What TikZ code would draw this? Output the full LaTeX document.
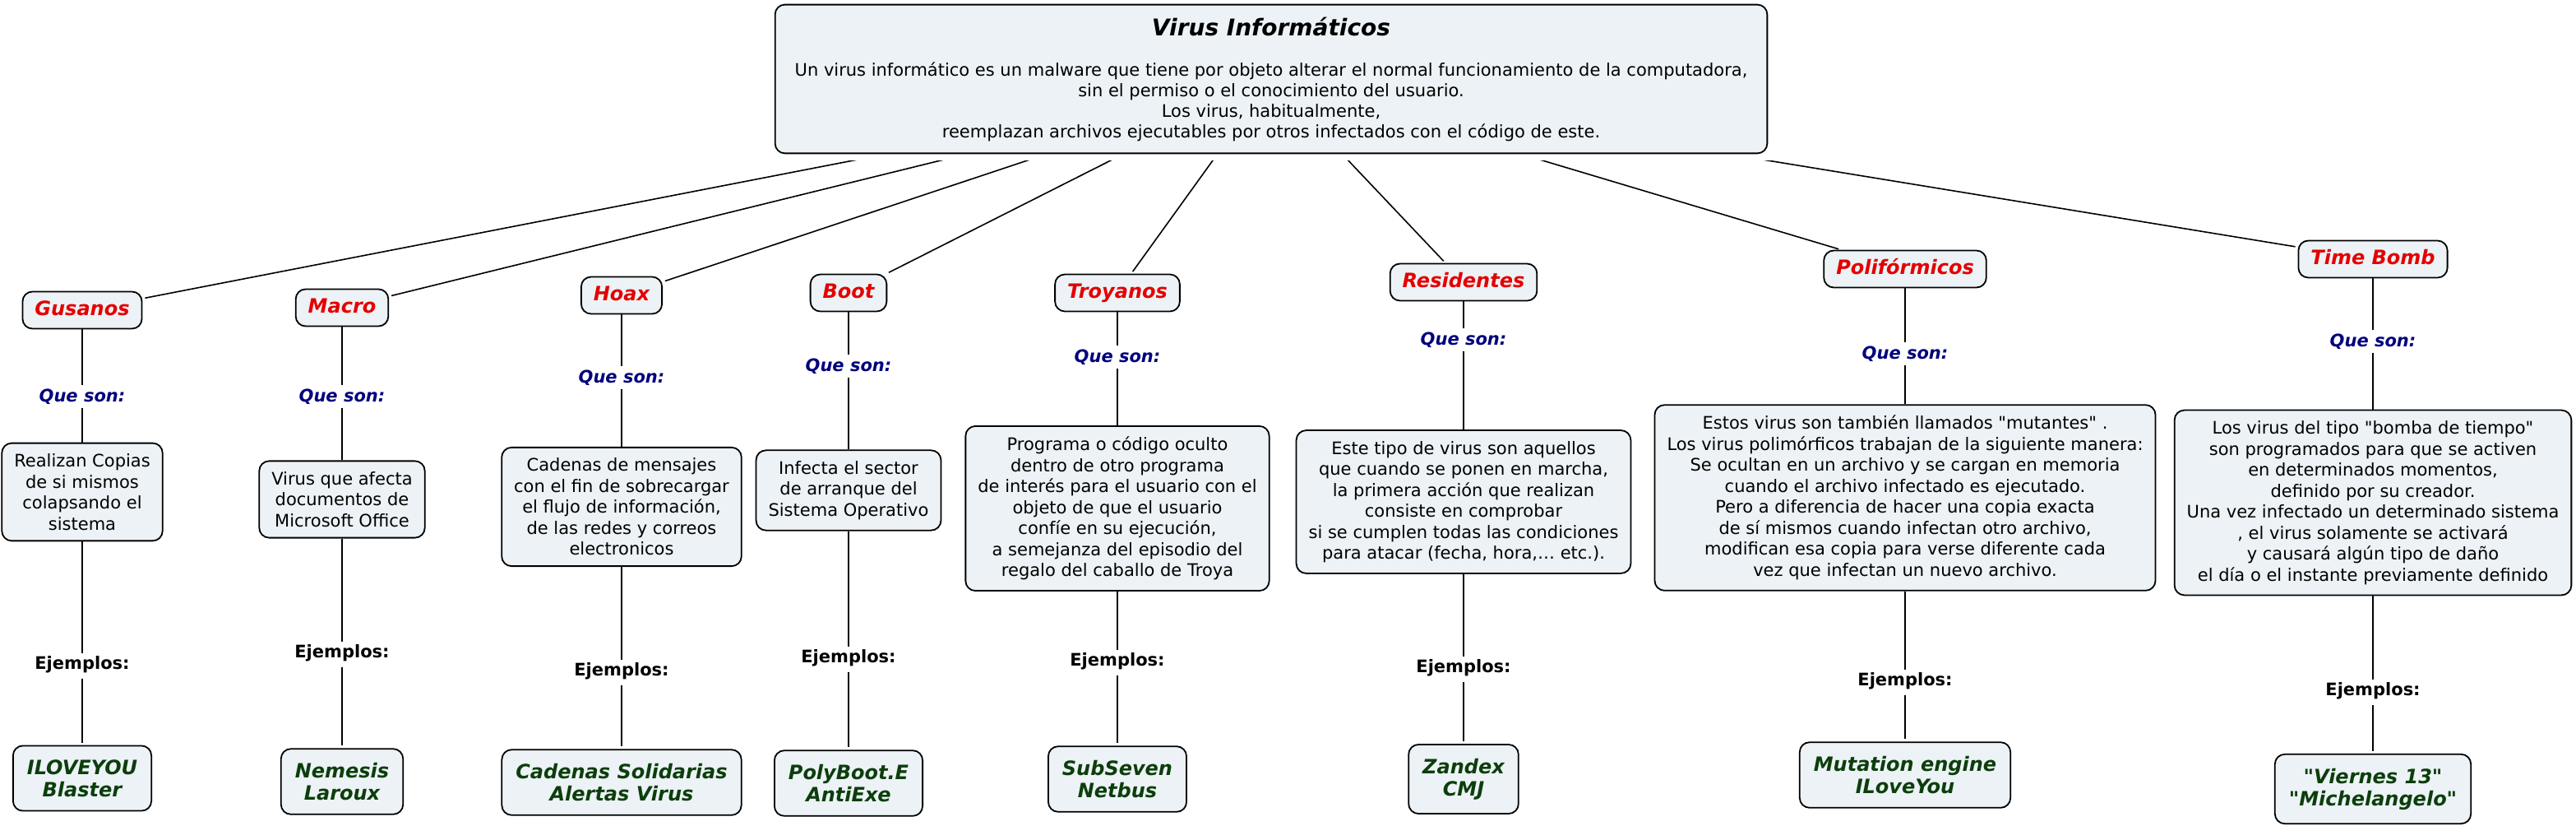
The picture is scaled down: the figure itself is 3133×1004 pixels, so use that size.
\documentclass[tikz,border=0pt]{standalone}
\usepackage{fontspec}
\setmainfont{DejaVu Sans}
\newfontfamily\plainfont{DejaVu Sans}
\usepackage{xcolor}
\definecolor{boxFill}{RGB}{236,242,245}
\definecolor{virusRed}{RGB}{228,0,0}
\definecolor{queBlue}{RGB}{0,0,125}
\definecolor{ejemGreen}{RGB}{12,62,12}

\begin{document}
\begin{tikzpicture}[x=1pt, y=-1pt,
    box/.style={draw, line width=1.8pt, rounded corners=12pt, fill=boxFill, align=center},
    tipo/.style={box, inner xsep=15pt, inner ysep=11pt, text height=18pt, text depth=5pt, text=virusRed, font=\fontsize{24}{28}\selectfont\bfseries\itshape},
    que/.style={inner sep=4pt, text=queBlue, font=\fontsize{21}{25}\selectfont\bfseries\itshape},
    ejem/.style={inner sep=4pt, font=\fontsize{21}{25}\selectfont\bfseries},
    desc/.style={box, inner xsep=15pt, inner ysep=13pt, font=\fontsize{21}{25.5}\selectfont\plainfont},
    muestra/.style={box, inner xsep=17pt, inner ysep=17pt, text=ejemGreen, font=\fontsize{24}{27}\selectfont\plainfont\bfseries\itshape},
    link/.style={line width=1.6pt, shorten <=3pt, shorten >=3pt}]

    \useasboundingbox (0,0) rectangle (3133,1004);

    % main concept
    \node[box, inner xsep=24pt, inner ysep=15pt, font=\fontsize{21}{25}\selectfont] (virus) at (1546,96)
        {{\fontsize{28}{34}\selectfont\bfseries\itshape Virus Informáticos}\\[24pt]
         Un virus informático es un malware que tiene por objeto alterar el normal funcionamiento de la computadora,\\
         sin el permiso o el conocimiento del usuario.\\
         Los virus, habitualmente,\\
         reemplazan archivos ejecutables por otros infectados con el código de este.};

    % kinds of virus
    \node[tipo] (gus) at (100,377) {Gusanos};
    \node[tipo] (mac) at (416,374) {Macro};
    \node[tipo] (hoax) at (756,359) {Hoax};
    \node[tipo] (boot) at (1032,356) {Boot};
    \node[tipo] (troy) at (1359,356) {Troyanos};
    \node[tipo] (resi) at (1780,343) {Residentes};
    \node[tipo] (poli) at (2317,327) {Polifórmicos};
    \node[tipo] (bomb) at (2886,315) {Time Bomb};

    % linking words
    \node[que] (gusq) at (100,482) {Que son:};
    \node[que] (macq) at (416,482) {Que son:};
    \node[que] (hoaxq) at (756,459) {Que son:};
    \node[que] (bootq) at (1032,445) {Que son:};
    \node[que] (troyq) at (1359,434) {Que son:};
    \node[que] (resiq) at (1780,413) {Que son:};
    \node[que] (poliq) at (2317,430) {Que son:};
    \node[que] (bombq) at (2886,415) {Que son:};

    % descriptions
    \node[desc] (gusd) at (100,598) {Realizan Copias\\ de si mismos\\ colapsando el\\ sistema};
    \node[desc] (macd) at (416,607) {Virus que afecta\\ documentos de\\ Microsoft Office};
    \node[desc] (hoaxd) at (756,616) {Cadenas de mensajes\\ con el fin de sobrecargar\\ el flujo de información,\\ de las redes y correos\\ electronicos};
    \node[desc] (bootd) at (1032,596) {Infecta el sector\\ de arranque del\\ Sistema Operativo};
    \node[desc] (troyd) at (1359,618) {Programa o código oculto\\ dentro de otro programa\\ de interés para el usuario con el\\ objeto de que el usuario\\ confíe en su ejecución,\\ a semejanza del episodio del\\ regalo del caballo de Troya};
    \node[desc] (resid) at (1780,610) {Este tipo de virus son aquellos\\ que cuando se ponen en marcha,\\ la primera acción que realizan\\ consiste en comprobar\\ si se cumplen todas las condiciones\\ para atacar (fecha, hora,… etc.).};
    \node[desc] (polid) at (2317,605) {Estos virus son también llamados "mutantes" .\\ Los virus polimórficos trabajan de la siguiente manera:\\ Se ocultan en un archivo y se cargan en memoria\\ cuando el archivo infectado es ejecutado.\\ Pero a diferencia de hacer una copia exacta\\ de sí mismos cuando infectan otro archivo,\\ modifican esa copia para verse diferente cada\\ vez que infectan un nuevo archivo.};
    \node[desc] (bombd) at (2886,611) {Los virus del tipo "bomba de tiempo"\\ son programados para que se activen\\ en determinados momentos,\\ definido por su creador.\\ Una vez infectado un determinado sistema\\ , el virus solamente se activará\\ y causará algún tipo de daño\\ el día o el instante previamente definido};

    % linking words
    \node[ejem] (guse) at (100,808) {Ejemplos:};
    \node[ejem] (mace) at (416,794) {Ejemplos:};
    \node[ejem] (hoaxe) at (756,816) {Ejemplos:};
    \node[ejem] (boote) at (1032,800) {Ejemplos:};
    \node[ejem] (troye) at (1359,804) {Ejemplos:};
    \node[ejem] (resie) at (1780,812) {Ejemplos:};
    \node[ejem] (polie) at (2317,828) {Ejemplos:};
    \node[ejem] (bombe) at (2886,840) {Ejemplos:};

    % examples
    \node[muestra] (gusm) at (100,946) {ILOVEYOU\\ Blaster};
    \node[muestra] (macm) at (416,950) {Nemesis\\ Laroux};
    \node[muestra] (hoaxm) at (756,951) {Cadenas Solidarias\\ Alertas Virus};
    \node[muestra] (bootm) at (1032,952) {PolyBoot.E\\ AntiExe};
    \node[muestra] (troym) at (1359,947) {SubSeven\\ Netbus};
    \node[muestra] (resim) at (1780,947) {Zandex\\ CMJ};
    \node[muestra] (polim) at (2317,942) {Mutation engine\\ ILoveYou};
    \node[muestra] (bombm) at (2886,959) {"Viernes 13"\\ "Michelangelo"};

    % draw links, the ones from the main concept start a little below its box
    \begin{scope}
        \clip (0,195) rectangle (3133,1004);
        \draw[link] (virus) -- (gus);
        \draw[link] (virus) -- (mac);
        \draw[link] (virus) -- (hoax);
        \draw[link] (virus) -- (boot);
        \draw[link] (virus) -- (troy);
        \draw[link] (virus) -- (resi);
        \draw[link] (virus) -- (poli);
        \draw[link] (virus) -- (bomb);
    \end{scope}

    \draw[link] (gus) -- (gusq) (gusq) -- (gusd) (gusd) -- (guse) (guse) -- (gusm);
    \draw[link] (mac) -- (macq) (macq) -- (macd) (macd) -- (mace) (mace) -- (macm);
    \draw[link] (hoax) -- (hoaxq) (hoaxq) -- (hoaxd) (hoaxd) -- (hoaxe) (hoaxe) -- (hoaxm);
    \draw[link] (boot) -- (bootq) (bootq) -- (bootd) (bootd) -- (boote) (boote) -- (bootm);
    \draw[link] (troy) -- (troyq) (troyq) -- (troyd) (troyd) -- (troye) (troye) -- (troym);
    \draw[link] (resi) -- (resiq) (resiq) -- (resid) (resid) -- (resie) (resie) -- (resim);
    \draw[link] (poli) -- (poliq) (poliq) -- (polid) (polid) -- (polie) (polie) -- (polim);
    \draw[link] (bomb) -- (bombq) (bombq) -- (bombd) (bombd) -- (bombe) (bombe) -- (bombm);
\end{tikzpicture}
\end{document}
